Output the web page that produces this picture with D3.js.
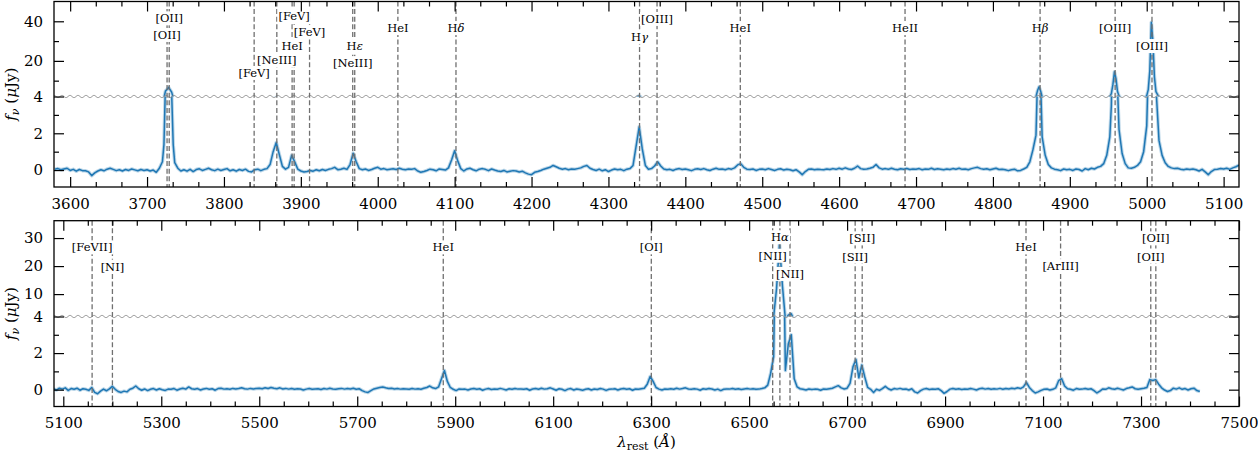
<!DOCTYPE html>
<html>
<head>
<meta charset="utf-8">
<script src="https://cdn.jsdelivr.net/npm/d3@7"></script>
<style>
  body { margin: 0; background: #fff; }
  text { font-family: "DejaVu Serif", serif; fill: #000; }
</style>
</head>
<body>
<div id="chart"></div>
<script>
// ---- data ----
// blue half of the spectrum: flux (uJy) every 4 A from 3580 A
var blueStart = 3580, blueStep = 4;
var blueFlux = [
  .05,.08,.02,.06,.1,-.02,.04,-.06,.03,-.03,
  -.04,-.1,-.3,-.15,-.05,.02,-.04,.05,.1,.04,
  -.03,.02,-.05,.03,-.02,.06,.01,-.04,.03,-.02,
  .02,-.05,.0,-.12,.1,.45,4.8,6.6,4.2,.4,
  .1,-.05,.02,-.06,.04,-.08,.03,.07,-.02,.04,
  .1,.02,-.03,.05,-.02,.03,.08,-.04,.02,-.06,
  .03,-.02,.05,-.07,-.1,.02,.05,-.03,.04,.08,
  .3,1.0,1.5,.85,.2,.05,.15,.8,.45,.05,
  -.05,-.1,-.08,-.02,-.06,.02,-.04,.03,-.02,.04,
  .08,.15,.02,.05,.1,.04,.3,.92,.45,.08,
  .02,.06,-.02,.03,.1,.15,.05,.08,.02,.05,
  .07,.03,.1,.05,.02,.06,.04,.08,-.05,-.12,
  -.08,-.02,.05,.02,-.04,.06,.03,.0,.12,.55,
  1.05,.5,.08,-.05,.06,.1,.02,-.04,.05,.08,
  .04,-.03,.06,.0,-.05,-.08,-.02,-.1,-.06,-.03,
  -.05,-.1,-.06,-.15,-.22,-.25,-.12,-.08,-.02,.05,
  .1,.15,.25,.18,.1,.05,.08,.02,.06,.04,
  .08,.12,.2,.25,.1,.03,-.02,.05,-.04,.02,
  -.08,.0,.06,.02,.04,-.03,.05,.08,.25,1.3,
  2.35,1.15,.25,.05,.08,.22,.45,.22,.06,.02,
  .04,-.02,.05,.08,.03,.06,.02,-.03,.04,.07,
  .03,.08,.02,-.02,.05,.1,.04,.06,.02,.08,
  .05,.12,.28,.35,.15,.05,.03,.06,-.02,.04,
  .06,.02,.08,.03,-.02,.04,.07,.0,.05,.02,
  -.04,.02,-.1,-.25,-.08,.04,.06,.02,.05,.03,
  .02,.06,.03,.08,.04,.1,.05,.12,.06,.03,
  .1,.22,.08,.04,.06,.1,.15,.3,.12,.05,
  .08,.04,.1,.05,.02,.07,.04,.09,.03,.06,
  .05,.08,.02,.06,.04,.1,.03,.07,.05,.02,
  .06,.03,.08,.05,.1,.04,.06,.02,.08,.12,
  .15,.08,.04,.07,.02,.06,.1,.03,.05,.02,
  -.03,.02,.05,-.04,-.02,.06,.15,.45,1.1,1.9,
  6.9,1.8,.8,.3,.12,.05,.02,-.03,.06,.02,
  .04,-.02,.06,.03,-.05,.08,.02,.1,.06,.15,
  .2,.35,.8,1.8,8,11,2.2,.9,.35,.12,
  .1,.15,.25,.45,1.0,2.4,15,30,4.5,1.6,
  .8,.4,.2,.12,.08,.1,.05,.02,.06,.03,
  .06,.02,-.05,.04,-.1,-.25,-.08,.03,.05,.08,
  .06,.1,.04,.12,.18,.27
];
// extra samples in the cores of the strongest blue lines
var blueCoreWave = [3722, 3726, 3730, 3734, 4858, 4862, 4954, 4958, 4962, 5002, 5006, 5010];
var blueCoreFlux = [1.4, 5.6, 5.4, 1.4, 5.0, 4.8, 3.5, 14.5, 4.5, 5.5, 39.5, 12];

// red half of the spectrum: flux (uJy) every 6 A from 5080 A
var redStart = 5080, redStep = 6;
var redFlux = [
  .05,-.02,.08,.03,.1,-.04,.06,.02,.08,-.03,
  .05,.02,-.04,.12,-.15,-.22,-.08,.03,-.06,.04,
  .18,.02,-.1,-.15,-.08,-.12,.02,.08,.2,.05,
  -.03,.04,-.05,.02,.06,-.02,.05,.0,-.04,.03,
  .02,.06,-.03,.04,.08,.03,.15,.05,.02,.06,
  -.02,.04,.07,.02,.05,-.03,.06,.08,.03,.05,
  .02,.07,.04,.06,.1,.05,.03,.07,.04,.06,
  .08,.05,.1,.06,.12,.08,.05,.1,.04,.07,
  .03,.06,.02,.05,.04,-.02,.03,.06,.02,.04,
  .05,.01,.06,.03,.08,.04,.02,.05,.07,.03,
  .06,.04,.08,.02,.05,-.05,-.12,-.15,-.05,.04,
  .08,.12,.15,.1,.06,.08,.04,.06,.03,.05,
  .04,.02,.06,.03,.05,.02,.08,.12,.2,.1,
  .06,.15,.6,1.05,.45,.12,.02,-.05,.04,.02,
  .03,-.02,.04,.06,.02,.05,-.03,.03,.06,.01,
  .04,.02,.07,.03,-.02,.05,.02,.06,.03,.04,
  .02,.05,-.03,.04,.06,.02,.08,.03,.05,.1,
  .04,-.03,.05,.02,-.05,.03,.06,-.02,.04,.01,
  -.03,.02,.05,-.02,.04,.01,.06,.03,-.04,.02,
  .03,.05,-.02,.04,.06,.02,.05,-.03,.04,.02,
  .05,.08,.3,.72,.45,.12,.03,-.02,.04,.02,
  .05,.02,.08,.03,.06,.1,.04,.02,.05,.03,
  -.03,.05,.02,.06,.04,-.02,.03,-.05,.02,.04,
  .03,.06,.02,.05,.01,.04,.06,.03,.05,.02,
  .03,.06,.1,.25,.9,1.8,12,28,13,1.05,
  2.5,3.0,.6,.15,.05,.02,-.02,.04,.01,.03,
  .02,-.03,.04,.02,.05,.08,.15,.22,.1,.04,
  .08,.35,1.25,1.65,.65,1.35,.7,.12,.02,-.15,
  .02,-.04,.06,.18,.05,-.02,.06,.03,.07,.02,
  .04,-.02,.05,-.12,-.18,-.05,.03,.06,.01,.04,
  .02,.05,-.05,-.2,-.1,.03,.06,.02,.05,.01,
  .04,.02,.06,.03,-.02,.05,.08,.03,.06,.02,
  .05,.03,.07,.02,.06,.04,.08,.05,.1,.06,
  .15,.4,.12,-.05,-.18,-.12,-.04,.02,.04,-.02,
  .02,.1,.5,.6,.2,.05,.02,-.03,.06,.02,
  .03,.06,.02,.05,-.05,-.18,-.08,.04,.02,.1,
  .05,.02,.08,.03,-.02,.06,.1,.15,.05,.02,
  .05,.08,.12,.55,.5,.55,.3,.1,-.02,-.1,
  -.05,.08,.03,.1,.02,.06,-.02,.05,.08,-.05,
  -.1
];
var redCoreWave = [];
var redCoreFlux = [];

// emission lines (rest wavelength), their names and the flux level of each label
var blueLineWave = [3726.03, 3728.82, 3839.27, 3868.76, 3888.65, 3891.28, 3911.33, 3967.47, 3970.07,
  4026.19, 4101.74, 4340.47, 4363.21, 4471.48, 4685.71, 4861.33, 4958.91, 5006.84];
var blueLineName = ["[OII]", "[OII]", "[FeV]", "[NeIII]", "HeI", "[FeV]", "[FeV]", "[NeIII]", "H\u03b5",
  "HeI", "H\u03b4", "H\u03b3", "[OIII]", "HeI", "HeII", "H\u03b2", "[OIII]", "[OIII]"];
var blueLabelLevel = [33.1, 41.5, 13.9, 20.4, 27.5, 42.7, 34.6, 18.9, 27.5,
  36.6, 36.6, 32.1, 41.2, 36.6, 36.6, 36.6, 36.6, 27.5];

var redLineWave = [5158.8, 5200.26, 5875.62, 6300.30, 6548.05, 6562.80, 6583.45, 6716.44, 6730.82,
  7065.2, 7135.8, 7319.9, 7330.2];
var redLineName = ["[FeVII]", "[NI]", "HeI", "[OI]", "[NII]", "H\u03b1", "[NII]", "[SII]", "[SII]",
  "HeI", "[ArIII]", "[OII]", "[OII]"];
var redLabelLevel = [26.7, 19.8, 26.7, 26.7, 23.7, 30.3, 17.2, 23.4, 29.9, 26.7, 20, 23.4, 29.9];

// tick labels
var blueXTicks = [3600, 3700, 3800, 3900, 4000, 4100, 4200, 4300, 4400, 4500, 4600, 4700, 4800, 4900, 5000, 5100];
var redXTicks = [5100, 5300, 5500, 5700, 5900, 6100, 6300, 6500, 6700, 6900, 7100, 7300, 7500];
var lowYTicks = [0, 2, 4];
var lowYMinor = [1, 3];
var blueUpTicks = [20, 40];
var blueUpMinor = [10, 30];
var redUpTicks = [10, 20, 30];
var redUpMinor = [];

// ---- chart set up ----
var svgWidth = 1258;
var svgHeight = 452;
var plotLeft = 54, plotRight = 1239;

var panels = [
  { start: blueStart, step: blueStep, flux: blueFlux, coreWave: blueCoreWave, coreFlux: blueCoreFlux,
    xDomain: [3579, 5120], xTicks: blueXTicks, minorStep: 100 / 3,
    top: 1.5, brk: 96.5, bottom: 187, upDomain: [2, 50], upTicks: blueUpTicks, upMinor: blueUpMinor,
    waves: blueLineWave, names: blueLineName, levels: blueLabelLevel },
  { start: redStart, step: redStep, flux: redFlux, coreWave: redCoreWave, coreFlux: redCoreFlux,
    xDomain: [5081, 7500], xTicks: redXTicks, minorStep: 50,
    top: 220.7, brk: 316.5, bottom: 406.5, upDomain: [2, 36.2], upTicks: redUpTicks, upMinor: redUpMinor,
    waves: redLineWave, names: redLineName, levels: redLabelLevel }
];

var svg = d3.select("#chart")
  .append("svg")
  .attr("width", svgWidth)
  .attr("height", svgHeight);

var defs = svg.append("defs");

panels.forEach(function(p, pi) {
  var x = d3.scaleLinear().domain(p.xDomain).range([plotLeft, plotRight]);
  var yLow = d3.scaleLinear().domain([-0.92, 4]).range([p.bottom, p.brk]);
  var yUp = d3.scaleLinear().domain(p.upDomain).range([p.brk, p.top]);

  var data = p.flux.map(function(f, i) { return { w: p.start + i * p.step, f: f }; })
    .concat(p.coreWave.map(function(w, i) { return { w: w, f: p.coreFlux[i] }; }))
    .sort(function(a, b) { return a.w - b.w; });
  var g = svg.append("g");

  defs.append("clipPath").attr("id", "low" + pi).append("rect")
    .attr("x", plotLeft).attr("y", p.brk)
    .attr("width", plotRight - plotLeft).attr("height", p.bottom - p.brk);
  defs.append("clipPath").attr("id", "up" + pi).append("rect")
    .attr("x", plotLeft).attr("y", p.top)
    .attr("width", plotRight - plotLeft).attr("height", p.brk - p.top);

  // spectrum, once on each half of the broken axis
  [[yLow, "low"], [yUp, "up"]].forEach(function(pair) {
    var line = d3.line().x(d => x(d.w)).y(d => pair[0](d.f));
    var sg = g.append("g").attr("clip-path", "url(#" + pair[1] + pi + ")");
    sg.append("path").datum(data).attr("d", line)
      .attr("fill", "none").attr("stroke", "#1f77b4").attr("stroke-opacity", 0.3)
      .attr("stroke-width", 3.5).attr("stroke-linejoin", "round");
    sg.append("path").datum(data).attr("d", line)
      .attr("fill", "none").attr("stroke", "#1f77b4")
      .attr("stroke-width", 1.5).attr("stroke-linejoin", "round");
  });

  // wavy line marking the break
  var wavePts = d3.range(plotLeft, plotRight + 0.5, 0.5).map(function(px) {
    return [px, p.brk + 1.1 * Math.sin(px / 8 * 2 * Math.PI)];
  });
  g.append("path").attr("d", d3.line()(wavePts))
    .attr("fill", "none").attr("stroke", "#8c8c8c").attr("stroke-width", 1);

  // line markers
  g.selectAll(".marker").data(p.waves).enter().append("line")
    .attr("x1", d => x(d)).attr("x2", d => x(d))
    .attr("y1", p.top).attr("y2", p.bottom)
    .attr("stroke", "#707070").attr("stroke-width", 1.3)
    .attr("stroke-dasharray", "5,2.6");

  // labels with white boxes
  p.waves.forEach(function(w, k) {
    var lg = g.append("g");
    var t = lg.append("text")
      .attr("x", x(w)).attr("y", yUp(p.levels[k]))
      .attr("dy", "0.35em").attr("text-anchor", "middle").attr("font-size", 11.5);
    p.names[k].split(/([\u0370-\u03ff])/).forEach(function(part) {
      if (!part) return;
      var s = t.append("tspan").text(part);
      if (/[\u0370-\u03ff]/.test(part)) s.attr("font-style", "italic");
    });
    var bb = t.node().getBBox();
    lg.insert("rect", "text")
      .attr("x", bb.x - 1).attr("y", bb.y)
      .attr("width", bb.width + 2).attr("height", bb.height)
      .attr("fill", "white");
  });

  // axes
  function addAxis(axis, transform, values, size, labelled) {
    var ag = g.append("g").attr("transform", transform)
      .call(axis.tickValues(values).tickSize(-size).tickPadding(labelled ? 11 : 0)
        .tickFormat(labelled ? d3.format("d") : ""));
    ag.select(".domain").remove();
    ag.selectAll("line").attr("stroke-width", 1.2);
    ag.attr("font-family", "DejaVu Serif").attr("font-size", 15);
  }
  var xMinor = d3.range(0, 200).map(k => 3000 + k * p.minorStep)
    .filter(v => v > p.xDomain[0] && v < p.xDomain[1])
    .filter(v => !p.xTicks.some(t => Math.abs(t - v) < 1));

  addAxis(d3.axisBottom(x), "translate(0," + p.bottom + ")", p.xTicks, 10, true);
  addAxis(d3.axisBottom(x), "translate(0," + p.bottom + ")", xMinor, 5, false);
  addAxis(d3.axisTop(x), "translate(0," + p.top + ")", p.xTicks, 10, false);
  addAxis(d3.axisTop(x), "translate(0," + p.top + ")", xMinor, 5, false);

  addAxis(d3.axisLeft(yLow), "translate(" + plotLeft + ",0)", lowYTicks, 10, true);
  addAxis(d3.axisLeft(yLow), "translate(" + plotLeft + ",0)", lowYMinor, 5, false);
  addAxis(d3.axisRight(yLow), "translate(" + plotRight + ",0)", lowYTicks, 10, false);
  addAxis(d3.axisRight(yLow), "translate(" + plotRight + ",0)", lowYMinor, 5, false);
  addAxis(d3.axisLeft(yUp), "translate(" + plotLeft + ",0)", p.upTicks, 10, true);
  addAxis(d3.axisLeft(yUp), "translate(" + plotLeft + ",0)", p.upMinor, 5, false);
  addAxis(d3.axisRight(yUp), "translate(" + plotRight + ",0)", p.upTicks, 10, false);
  addAxis(d3.axisRight(yUp), "translate(" + plotRight + ",0)", p.upMinor, 5, false);

  // frame
  g.append("rect")
    .attr("x", plotLeft).attr("y", p.top)
    .attr("width", plotRight - plotLeft).attr("height", p.bottom - p.top)
    .attr("fill", "none").attr("stroke", "#000").attr("stroke-width", 1.3);

  // y label
  var yl = svg.append("text")
    .attr("transform", "translate(16," + ((p.top + p.bottom) / 2) + ") rotate(-90)")
    .attr("text-anchor", "middle").attr("font-size", 15);
  yl.append("tspan").attr("font-style", "italic").text("f");
  yl.append("tspan").attr("font-style", "italic").attr("font-size", 11).attr("dy", 3).text("\u03bd");
  yl.append("tspan").attr("dy", -3).text(" (");
  yl.append("tspan").attr("font-style", "italic").text("\u03bc");
  yl.append("tspan").text("Jy)");
});

// x label
var xl = svg.append("text")
  .attr("x", (plotLeft + plotRight) / 2).attr("y", 447)
  .attr("text-anchor", "middle").attr("font-size", 15);
xl.append("tspan").attr("font-style", "italic").text("\u03bb");
xl.append("tspan").attr("font-size", 11).attr("dy", 3).text("rest");
xl.append("tspan").attr("dy", -3).text(" (");
xl.append("tspan").attr("font-style", "italic").text("\u00c5");
xl.append("tspan").text(")");
</script>
</body>
</html>
